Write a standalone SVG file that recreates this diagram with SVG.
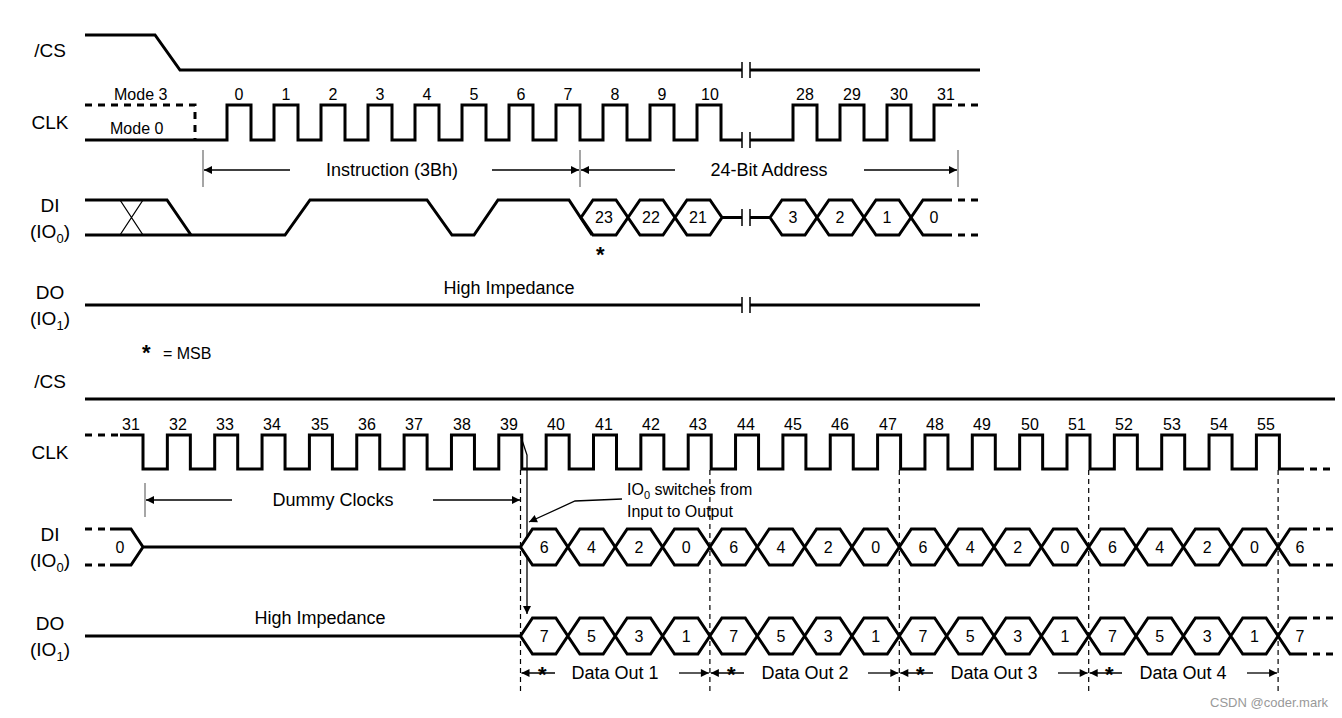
<svg xmlns="http://www.w3.org/2000/svg" xmlns:xlink="http://www.w3.org/1999/xlink" width="1342" height="718" viewBox="0 0 1342 718">
<style>
text{font-family:"Liberation Sans",Arial,sans-serif;fill:#000}
.lbl{font-size:19px;text-anchor:middle}
.num{font-size:16px;text-anchor:middle}
.ann{font-size:18px;text-anchor:middle}
.w{fill:none;stroke:#000;stroke-width:3;stroke-linejoin:miter}
.d{fill:none;stroke:#000;stroke-width:3;stroke-dasharray:7,6}
.t{fill:none;stroke:#000;stroke-width:1.3}
.dv{fill:none;stroke:#000;stroke-width:1.2;stroke-dasharray:5,4}
.g{fill:none;stroke:#888;stroke-width:1.5}
.hx{fill:#fff;stroke:#000;stroke-width:3}
.br{stroke:#000;stroke-width:1.5}
</style>
<defs>
<marker id="ah" viewBox="0 0 10 10" refX="10" refY="5" markerWidth="10" markerHeight="8" markerUnits="userSpaceOnUse" orient="auto"><path d="M0,0 L10,5 L0,10 z" fill="#000"/></marker>
<polygon id="hxb" points="0,18 12,0 35.35,0 47.35,18 35.35,36 12,36" class="hx"/>
<polygon id="hxt" points="0,17.5 12,0 35,0 47,17.5 35,35 12,35" class="hx"/>
</defs>

<g id="labels">
<text class="lbl" x="50" y="57">/CS</text>
<text class="lbl" x="50" y="129">CLK</text>
<text class="lbl" x="50" y="212">DI</text>
<text class="lbl" x="50" y="238">(IO<tspan font-size="13" dy="5">0</tspan><tspan dy="-5">)</tspan></text>
<text class="lbl" x="50" y="299">DO</text>
<text class="lbl" x="50" y="325">(IO<tspan font-size="13" dy="5">1</tspan><tspan dy="-5">)</tspan></text>
<text class="lbl" x="50" y="388">/CS</text>
<text class="lbl" x="50" y="459">CLK</text>
<text class="lbl" x="50" y="541">DI</text>
<text class="lbl" x="50" y="567">(IO<tspan font-size="13" dy="5">0</tspan><tspan dy="-5">)</tspan></text>
<text class="lbl" x="50" y="630">DO</text>
<text class="lbl" x="50" y="656">(IO<tspan font-size="13" dy="5">1</tspan><tspan dy="-5">)</tspan></text>
<text x="142" y="360" font-size="22" font-weight="bold">*</text>
<text x="163" y="359" font-size="16">= MSB</text>
</g>

<g id="top-cs">
<path class="w" d="M85 35 H155 L180 70 H742 M750 70 H980"/>
<path class="br" d="M742 62 V78 M750 62 V78"/>
</g>

<g id="top-clk">
<path class="d" d="M85 105 H195 V140"/>
<path class="w" d="M85 140 H227 v-35 h24 v35 h23 v-35 h24 v35 h23 v-35 h24 v35 h23 v-35 h24 v35 h23 v-35 h24 v35 h23 v-35 h24 v35 h23 v-35 h24 v35 h23 v-35 h24 v35 h23 v-35 h24 v35 h23 v-35 h24 v35 h23 v-35 h24 v35 H742"/>
<path class="w" d="M750 140 H793 v-35 h24 v35 h23 v-35 h24 v35 h23 v-35 h24 v35 h23 v-35 H945"/>
<path class="d" d="M945 105 H980"/>
<path class="br" d="M742 132 V148 M750 132 V148"/>
<text class="num" x="114" y="100" text-anchor="start" style="text-anchor:start">Mode 3</text>
<text class="num" x="110" y="134" style="text-anchor:start">Mode 0</text>
<text class="num" x="239" y="100">0</text><text class="num" x="286" y="100">1</text><text class="num" x="333" y="100">2</text><text class="num" x="380" y="100">3</text><text class="num" x="427" y="100">4</text><text class="num" x="474" y="100">5</text><text class="num" x="521" y="100">6</text><text class="num" x="568" y="100">7</text><text class="num" x="615" y="100">8</text><text class="num" x="662" y="100">9</text><text class="num" x="710" y="100">10</text>
<text class="num" x="805" y="100">28</text><text class="num" x="852" y="100">29</text><text class="num" x="899" y="100">30</text><text class="num" x="946" y="100">31</text>
</g>

<g id="top-dims">
<path class="g" d="M203 150 V187 M580 150 V187 M958 150 V187"/>
<line class="t" x1="290" y1="170" x2="204" y2="170" marker-end="url(#ah)"/>
<line class="t" x1="492" y1="170" x2="579" y2="170" marker-end="url(#ah)"/>
<text class="ann" x="392" y="176">Instruction (3Bh)</text>
<line class="t" x1="675" y1="170" x2="581" y2="170" marker-end="url(#ah)"/>
<line class="t" x1="864" y1="170" x2="957" y2="170" marker-end="url(#ah)"/>
<text class="ann" x="769" y="176">24-Bit Address</text>
</g>

<g id="top-di">
<path class="w" d="M85 200 H167 L191 235"/>
<path class="w" d="M85 235 H285 L310 200 H427 L452 235 H474 L498 200 H569 L592 235"/>
<path class="t" d="M120 200 L143 235 M143 200 L120 235"/>
<use xlink:href="#hxt" x="581" y="200"/><use xlink:href="#hxt" x="628" y="200"/><use xlink:href="#hxt" x="675" y="200"/>
<path class="w" d="M722 217.5 H742 M750 217.5 H770"/>
<path class="br" d="M742 209 V226 M750 209 V226"/>
<use xlink:href="#hxt" x="770" y="200"/><use xlink:href="#hxt" x="817" y="200"/><use xlink:href="#hxt" x="864" y="200"/>
<path class="w" d="M945 200 H923 L911 217.5 L923 235 H945"/>
<path class="d" d="M945 200 H980 M945 235 H980"/>
<text class="num" x="604" y="223">23</text><text class="num" x="651" y="223">22</text><text class="num" x="698" y="223">21</text>
<text class="num" x="793" y="223">3</text><text class="num" x="840" y="223">2</text><text class="num" x="887" y="223">1</text><text class="num" x="934" y="223">0</text>
<text x="596" y="262" font-size="22" font-weight="bold">*</text>
</g>

<g id="top-do">
<path class="w" d="M85 305 H742 M750 305 H980"/>
<path class="br" d="M742 297 V313 M750 297 V313"/>
<text class="ann" x="509" y="294">High Impedance</text>
</g>

<g id="bot-cs">
<path class="w" d="M85 399 H1335"/>
</g>

<g id="bot-clk">
<path class="d" d="M85 435 H120"/>
<path class="w" d="M120 435 H143 V469 h24.35 v-34 h23 v34 h24.35 v-34 h23 v34 h24.35 v-34 h23 v34 h24.35 v-34 h23 v34 h24.35 v-34 h23 v34 h24.35 v-34 h23 v34 h24.35 v-34 h23 v34 h24.35 v-34 h23 v34 h24.35 v-34 h23 v34 h24.35 v-34 h23 v34 h24.35 v-34 h23 v34 h24.35 v-34 h23 v34 h24.35 v-34 h23 v34 h24.35 v-34 h23 v34 h24.35 v-34 h23 v34 h24.35 v-34 h23 v34 h24.35 v-34 h23 v34 h24.35 v-34 h23 v34 h24.35 v-34 h23 v34 h24.35 v-34 h23 v34 h24.35 v-34 h23 v34 h24.35 v-34 h23 v34 h24.35 v-34 h23 v34 h24.35 v-34 h23 v34 H1297"/>
<path class="d" d="M1297 469 H1335"/>
<text class="num" x="131" y="430">31</text><text class="num" x="178" y="430">32</text><text class="num" x="225" y="430">33</text><text class="num" x="272" y="430">34</text><text class="num" x="320" y="430">35</text><text class="num" x="367" y="430">36</text><text class="num" x="414" y="430">37</text><text class="num" x="462" y="430">38</text><text class="num" x="509" y="430">39</text><text class="num" x="556" y="430">40</text><text class="num" x="604" y="430">41</text><text class="num" x="651" y="430">42</text><text class="num" x="698" y="430">43</text><text class="num" x="746" y="430">44</text><text class="num" x="793" y="430">45</text><text class="num" x="840" y="430">46</text><text class="num" x="888" y="430">47</text><text class="num" x="935" y="430">48</text><text class="num" x="982" y="430">49</text><text class="num" x="1030" y="430">50</text><text class="num" x="1077" y="430">51</text><text class="num" x="1124" y="430">52</text><text class="num" x="1172" y="430">53</text><text class="num" x="1219" y="430">54</text><text class="num" x="1266" y="430">55</text>
</g>

<g id="bot-guides">
<path class="dv" d="M520.5 470 V692 M709.9 470 V692 M899.3 470 V692 M1088.7 470 V692 M1278.1 470 V692"/>
<path class="g" d="M145 483 V517"/>
<line class="t" x1="232" y1="500" x2="146" y2="500" marker-end="url(#ah)"/>
<line class="t" x1="433" y1="500" x2="520" y2="500" marker-end="url(#ah)"/>
<text class="ann" x="333" y="506">Dummy Clocks</text>
<path class="t" d="M521 437 L527 455 V614" marker-end="url(#ah)"/>
<path class="t" d="M622 499 L575 501 L529 522" marker-end="url(#ah)"/>
<text x="627" y="495" font-size="16">IO<tspan font-size="11" dy="4">0</tspan><tspan dy="-4"> switches from</tspan></text>
<text x="627" y="517" font-size="16">Input to Output</text>
</g>

<g id="bot-di">
<path class="d" d="M85 529 H110 M85 565 H110"/>
<path class="w" d="M110 529 H131 L143 547 L131 565 H110 M143 547 H520.5"/>
<use xlink:href="#hxb" x="520.5" y="529"/><use xlink:href="#hxb" x="567.85" y="529"/><use xlink:href="#hxb" x="615.2" y="529"/><use xlink:href="#hxb" x="662.55" y="529"/><use xlink:href="#hxb" x="709.9" y="529"/><use xlink:href="#hxb" x="757.25" y="529"/><use xlink:href="#hxb" x="804.6" y="529"/><use xlink:href="#hxb" x="851.95" y="529"/><use xlink:href="#hxb" x="899.3" y="529"/><use xlink:href="#hxb" x="946.65" y="529"/><use xlink:href="#hxb" x="994" y="529"/><use xlink:href="#hxb" x="1041.35" y="529"/><use xlink:href="#hxb" x="1088.7" y="529"/><use xlink:href="#hxb" x="1136.05" y="529"/><use xlink:href="#hxb" x="1183.4" y="529"/><use xlink:href="#hxb" x="1230.75" y="529"/>
<path class="w" d="M1300 529 H1290 L1278.1 547 L1290 565 H1300"/>
<path class="d" d="M1300 529 H1335 M1300 565 H1335"/>
<text class="num" x="120" y="553">0</text>
<text class="num" x="544.2" y="553">6</text><text class="num" x="591.5" y="553">4</text><text class="num" x="638.9" y="553">2</text><text class="num" x="686.2" y="553">0</text><text class="num" x="733.6" y="553">6</text><text class="num" x="780.9" y="553">4</text><text class="num" x="828.3" y="553">2</text><text class="num" x="875.6" y="553">0</text><text class="num" x="923" y="553">6</text><text class="num" x="970.3" y="553">4</text><text class="num" x="1017.7" y="553">2</text><text class="num" x="1065" y="553">0</text><text class="num" x="1112.4" y="553">6</text><text class="num" x="1159.7" y="553">4</text><text class="num" x="1207.1" y="553">2</text><text class="num" x="1254.4" y="553">0</text><text class="num" x="1300" y="553">6</text>
</g>

<g id="bot-do">
<path class="w" d="M85 636 H520.5"/>
<text class="ann" x="320" y="624">High Impedance</text>
<use xlink:href="#hxb" x="520.5" y="618"/><use xlink:href="#hxb" x="567.85" y="618"/><use xlink:href="#hxb" x="615.2" y="618"/><use xlink:href="#hxb" x="662.55" y="618"/><use xlink:href="#hxb" x="709.9" y="618"/><use xlink:href="#hxb" x="757.25" y="618"/><use xlink:href="#hxb" x="804.6" y="618"/><use xlink:href="#hxb" x="851.95" y="618"/><use xlink:href="#hxb" x="899.3" y="618"/><use xlink:href="#hxb" x="946.65" y="618"/><use xlink:href="#hxb" x="994" y="618"/><use xlink:href="#hxb" x="1041.35" y="618"/><use xlink:href="#hxb" x="1088.7" y="618"/><use xlink:href="#hxb" x="1136.05" y="618"/><use xlink:href="#hxb" x="1183.4" y="618"/><use xlink:href="#hxb" x="1230.75" y="618"/>
<path class="w" d="M1300 618 H1290 L1278.1 636 L1290 654 H1300"/>
<path class="d" d="M1300 618 H1335 M1300 654 H1335"/>
<text class="num" x="544.2" y="642">7</text><text class="num" x="591.5" y="642">5</text><text class="num" x="638.9" y="642">3</text><text class="num" x="686.2" y="642">1</text><text class="num" x="733.6" y="642">7</text><text class="num" x="780.9" y="642">5</text><text class="num" x="828.3" y="642">3</text><text class="num" x="875.6" y="642">1</text><text class="num" x="923" y="642">7</text><text class="num" x="970.3" y="642">5</text><text class="num" x="1017.7" y="642">3</text><text class="num" x="1065" y="642">1</text><text class="num" x="1112.4" y="642">7</text><text class="num" x="1159.7" y="642">5</text><text class="num" x="1207.1" y="642">3</text><text class="num" x="1254.4" y="642">1</text><text class="num" x="1300" y="642">7</text>
</g>

<g id="data-out">
<line class="t" x1="555" y1="673" x2="521.5" y2="673" marker-end="url(#ah)"/>
<line class="t" x1="679" y1="673" x2="708.9" y2="673" marker-end="url(#ah)"/>
<text x="538" y="682" font-size="22" font-weight="bold">*</text>
<text class="ann" x="615" y="679">Data Out 1</text>
<line class="t" x1="744" y1="673" x2="710.9" y2="673" marker-end="url(#ah)"/>
<line class="t" x1="868" y1="673" x2="898.3" y2="673" marker-end="url(#ah)"/>
<text x="727" y="682" font-size="22" font-weight="bold">*</text>
<text class="ann" x="805" y="679">Data Out 2</text>
<line class="t" x1="933" y1="673" x2="900.3" y2="673" marker-end="url(#ah)"/>
<line class="t" x1="1058" y1="673" x2="1087.7" y2="673" marker-end="url(#ah)"/>
<text x="916" y="682" font-size="22" font-weight="bold">*</text>
<text class="ann" x="994" y="679">Data Out 3</text>
<line class="t" x1="1122" y1="673" x2="1089.7" y2="673" marker-end="url(#ah)"/>
<line class="t" x1="1247" y1="673" x2="1277.1" y2="673" marker-end="url(#ah)"/>
<text x="1105" y="682" font-size="22" font-weight="bold">*</text>
<text class="ann" x="1183" y="679">Data Out 4</text>
</g>

<text x="1328" y="707" font-size="13" fill="#999" style="fill:#999;text-anchor:end">CSDN @coder.mark</text>
</svg>
